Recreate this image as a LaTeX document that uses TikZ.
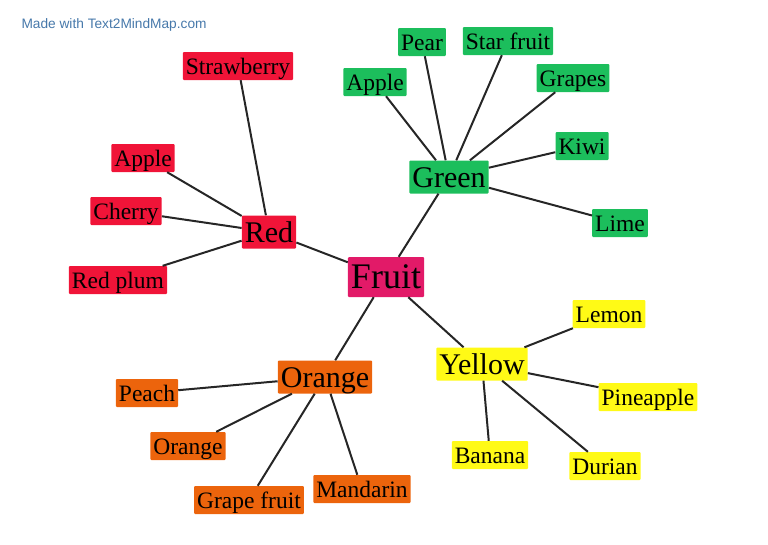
\documentclass[tikz,border=0pt]{standalone}
\usepackage{fontspec}
\setmainfont{Liberation Serif}
\newfontfamily\credfont{Liberation Sans}
\definecolor{redfill}{RGB}{240,20,56}
\definecolor{greenfill}{RGB}{28,190,92}
\definecolor{rootfill}{RGB}{226,26,104}
\definecolor{orangefill}{RGB}{236,100,12}
\definecolor{yellowfill}{RGB}{255,250,22}
\definecolor{credit}{RGB}{70,120,170}
\tikzstyle{box}=[rectangle, rounded corners=1pt, inner xsep=3pt, inner ysep=0pt]
\tikzstyle{leaf}=[box, minimum height=28, font=\fontsize{23.5}{24}\selectfont, text height=19pt, text depth=3pt]
\tikzstyle{group}=[box, minimum height=33, font=\fontsize{30}{30}\selectfont, text height=24pt, text depth=3pt]
\tikzstyle{root}=[box, minimum height=40, minimum width=76, font=\fontsize{36}{36}\selectfont, text height=27pt, text depth=5pt]
\tikzstyle{link}=[line width=2pt, draw=black!85]
\begin{document}
\begin{tikzpicture}[x=1pt, y=-1pt]
\useasboundingbox (0,0) rectangle (768,544);
\draw (18,25) node[anchor=west, text=credit, font=\credfont\fontsize{13.7}{14}\selectfont] (credit) {Made with Text2MindMap.com};
\draw (386,277) node[root, fill=rootfill] (fruit) {Fruit};
% red branch
\draw (269,232) node[group, fill=redfill] (red) {Red};
\draw (238,66) node[leaf, fill=redfill] (strawberry) {Strawberry};
\draw (143,158) node[leaf, fill=redfill] (redapple) {Apple};
\draw (126,211) node[leaf, fill=redfill] (cherry) {Cherry};
\draw (118,280) node[leaf, fill=redfill] (redplum) {Red plum};
% green branch
\draw (449,177) node[group, fill=greenfill] (green) {Green};
\draw (422,42) node[leaf, fill=greenfill] (pear) {Pear};
\draw (508,41) node[leaf, fill=greenfill] (starfruit) {Star fruit};
\draw (375,82) node[leaf, fill=greenfill] (greenapple) {Apple};
\draw (573,78) node[leaf, fill=greenfill] (grapes) {Grapes};
\draw (582,146) node[leaf, fill=greenfill] (kiwi) {Kiwi};
\draw (620,223) node[leaf, fill=greenfill] (lime) {Lime};
% yellow branch
\draw (482,364) node[group, fill=yellowfill] (yellow) {Yellow};
\draw (609,314) node[leaf, fill=yellowfill] (lemon) {Lemon};
\draw (648,397) node[leaf, fill=yellowfill] (pineapple) {Pineapple};
\draw (490,455) node[leaf, fill=yellowfill] (banana) {Banana};
\draw (605,466) node[leaf, fill=yellowfill] (durian) {Durian};
% orange branch
\draw (325,377) node[group, fill=orangefill] (orange) {Orange};
\draw (147,393) node[leaf, fill=orangefill] (peach) {Peach};
\draw (188,446) node[leaf, fill=orangefill] (orangeleaf) {Orange};
\draw (249,500) node[leaf, fill=orangefill] (grapefruit) {Grape fruit};
\draw (362,489) node[leaf, fill=orangefill] (mandarin) {Mandarin};

\draw[link] (fruit) -- (red);
\draw[link] (fruit) -- (green);
\draw[link] (fruit) -- (yellow);
\draw[link] (fruit) -- (orange);
\draw[link] (red) -- (strawberry);
\draw[link] (red) -- (redapple);
\draw[link] (red) -- (cherry);
\draw[link] (red) -- (redplum);
\draw[link] (green) -- (pear);
\draw[link] (green) -- (starfruit);
\draw[link] (green) -- (greenapple);
\draw[link] (green) -- (grapes);
\draw[link] (green) -- (kiwi);
\draw[link] (green) -- (lime);
\draw[link] (yellow) -- (lemon);
\draw[link] (yellow) -- (pineapple);
\draw[link] (yellow) -- (banana);
\draw[link] (yellow) -- (durian);
\draw[link] (orange) -- (peach);
\draw[link] (orange) -- (orangeleaf);
\draw[link] (orange) -- (grapefruit);
\draw[link] (orange) -- (mandarin);
\end{tikzpicture}
\end{document}
